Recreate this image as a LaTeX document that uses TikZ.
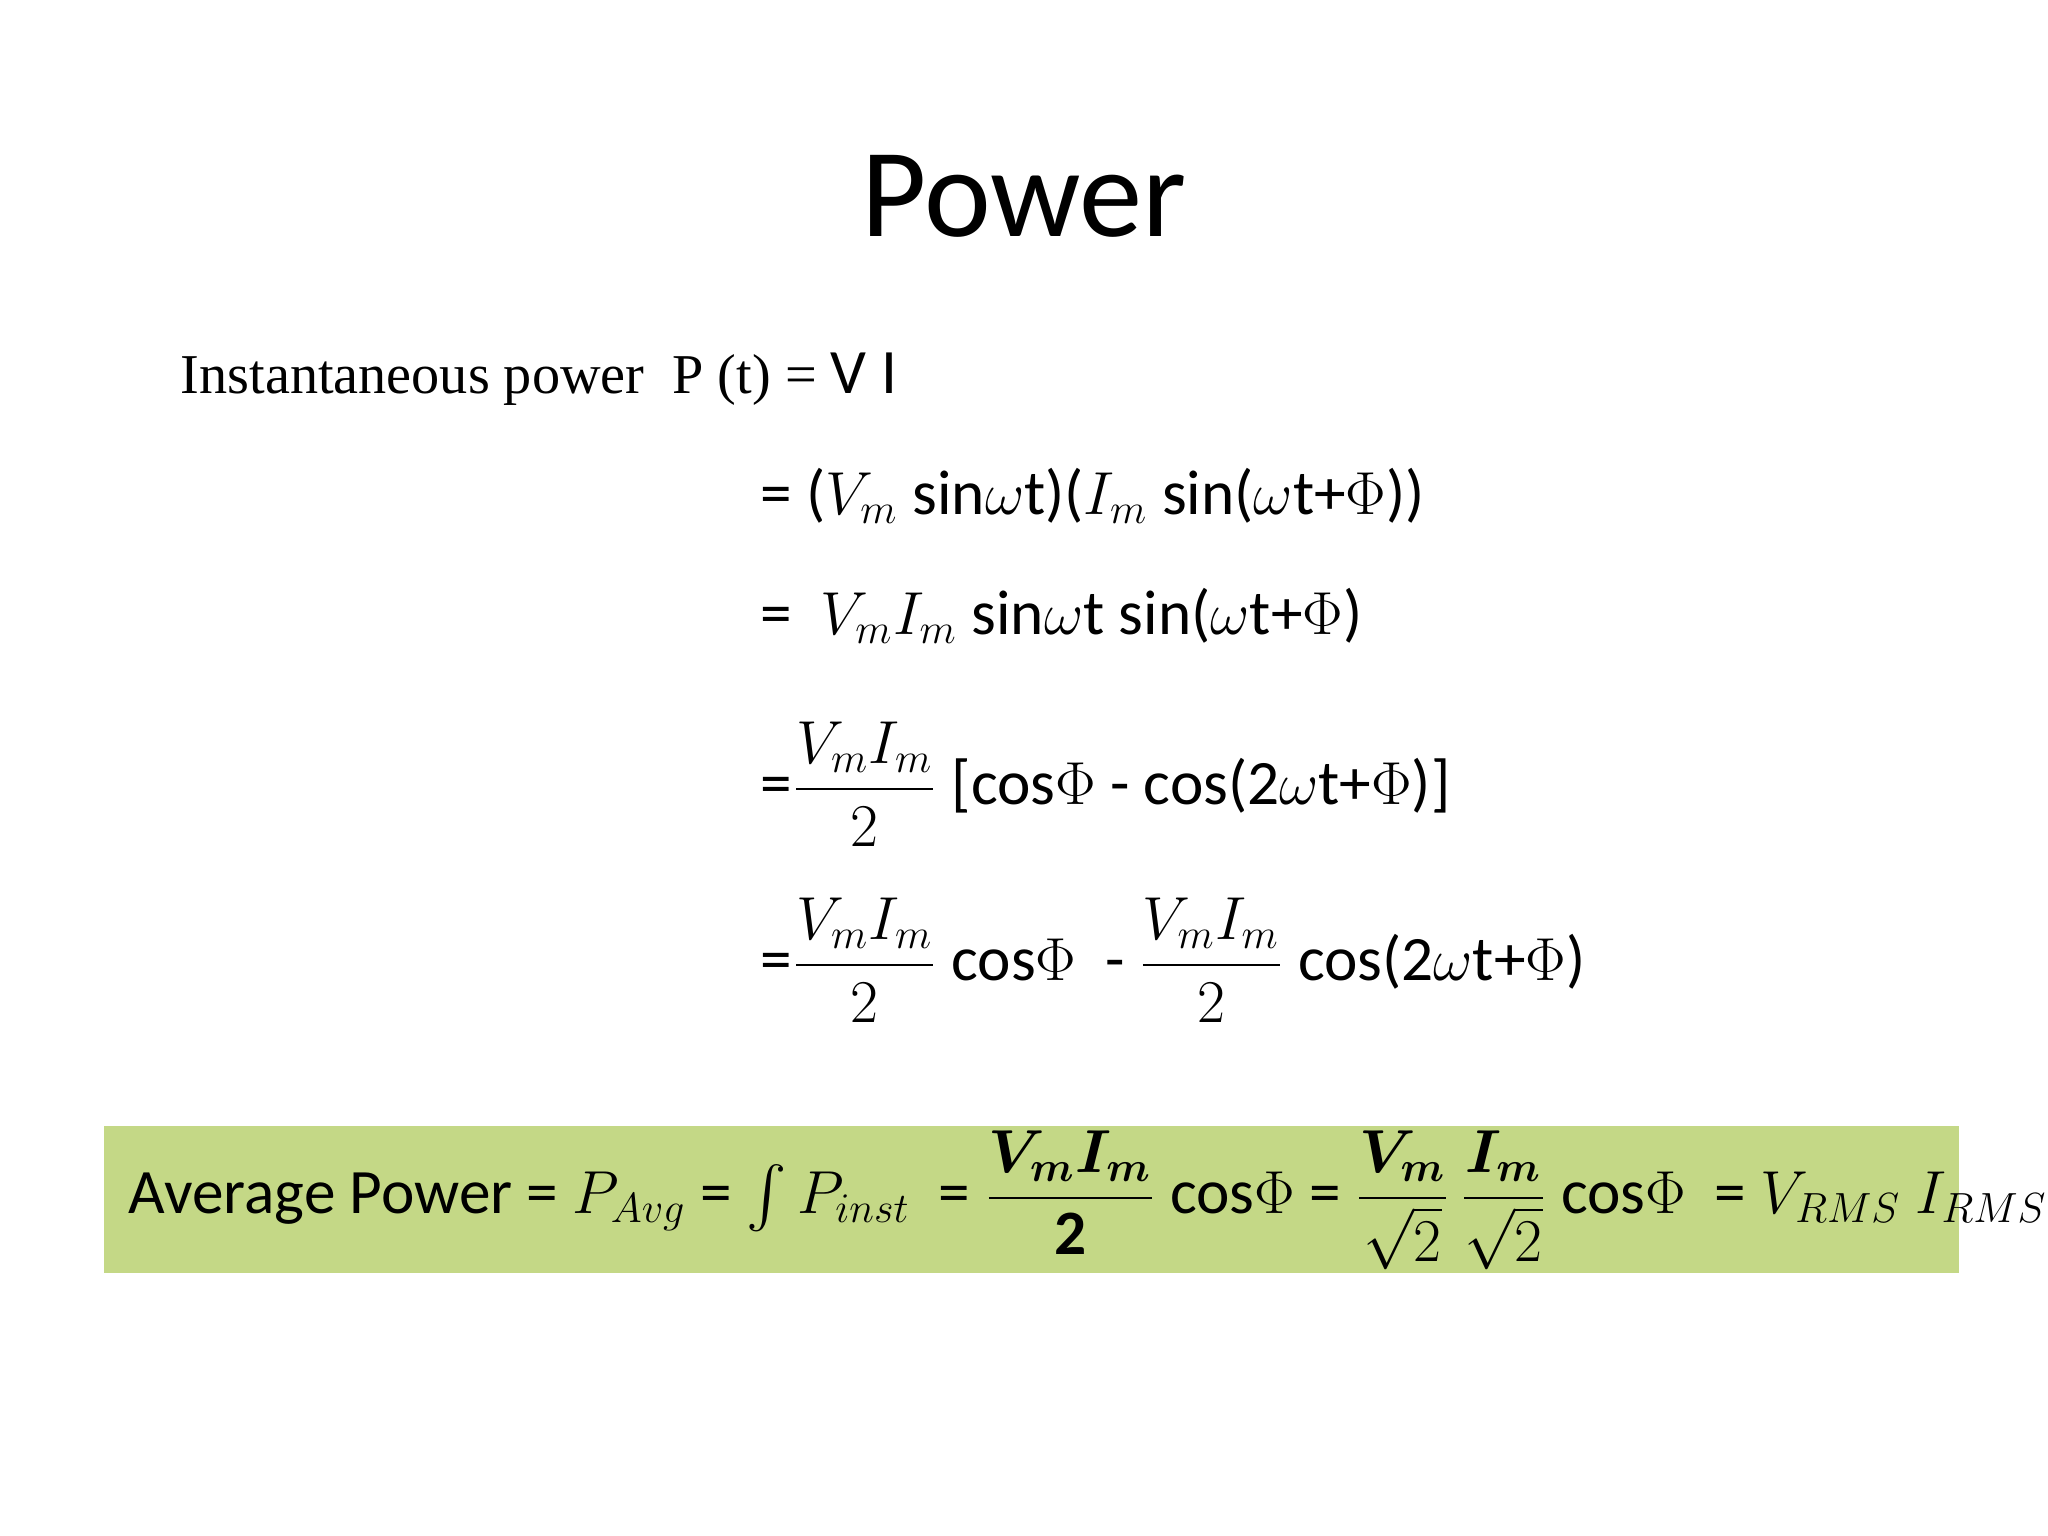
\documentclass[tikz,border=0pt]{standalone}
\usepackage{amsmath}
\usepackage{fontspec}
\setmainfont{Carlito}
\newfontfamily\serifa{Liberation Serif}
\definecolor{boxgreen}{RGB}{196,216,134}
\begin{document}
\begin{tikzpicture}[x=1cm,y=1cm,
  eq/.style={anchor=west,inner sep=0pt,font=\fontsize{18}{22}\selectfont},
  every node/.style={text=black}]
\useasboundingbox (0,0) rectangle (20.48,15.36);
\node[font=\fontsize{36}{42}\selectfont] (title) at (10.24,13.4) {Power};
\node[anchor=west,inner sep=0pt,font=\serifa\fontsize{16}{20}\selectfont] (l1) at (1.8,11.57)
  {Instantaneous power \ P (t) = {\rmfamily\fontsize{18}{22}\selectfont V I}};
\node[eq] (l2) at (7.6,10.40) {= ($V_m$ sin$\omega$t)($I_m$ sin($\omega$t+$\Phi$))};
\node[eq] (l3) at (7.6,9.20) {= \ $V_mI_m$ sin$\omega$t sin($\omega$t+$\Phi$)};
\node[eq] (l4) at (7.6,7.52) {=$\dfrac{V_mI_m}{2}$ [cos$\Phi$ - cos(2$\omega$t+$\Phi$)]};
\node[eq] (l5) at (7.6,5.76) {=$\dfrac{V_mI_m}{2}$ cos$\Phi$ \ - $\dfrac{V_mI_m}{2}$ cos(2$\omega$t+$\Phi$)};
\fill[boxgreen] (1.04,2.63) rectangle (19.59,4.10);
\node[eq,font=\fontsize{18}{22}\selectfont] (avg) at (1.28,3.36)
  {Average Power = $P_{Avg}$ = $\int P_{inst}$ \ = $\dfrac{\boldsymbol{V_mI_m}}{\mathbf{2}}$ cos$\Phi$ = $\dfrac{\boldsymbol{V_m}}{\sqrt{2}}\,\dfrac{\boldsymbol{I_m}}{\sqrt{2}}$ cos$\Phi$ \ = $V_{RMS}\ I_{RMS}$ cos$\Phi$};
\end{tikzpicture}
\end{document}
